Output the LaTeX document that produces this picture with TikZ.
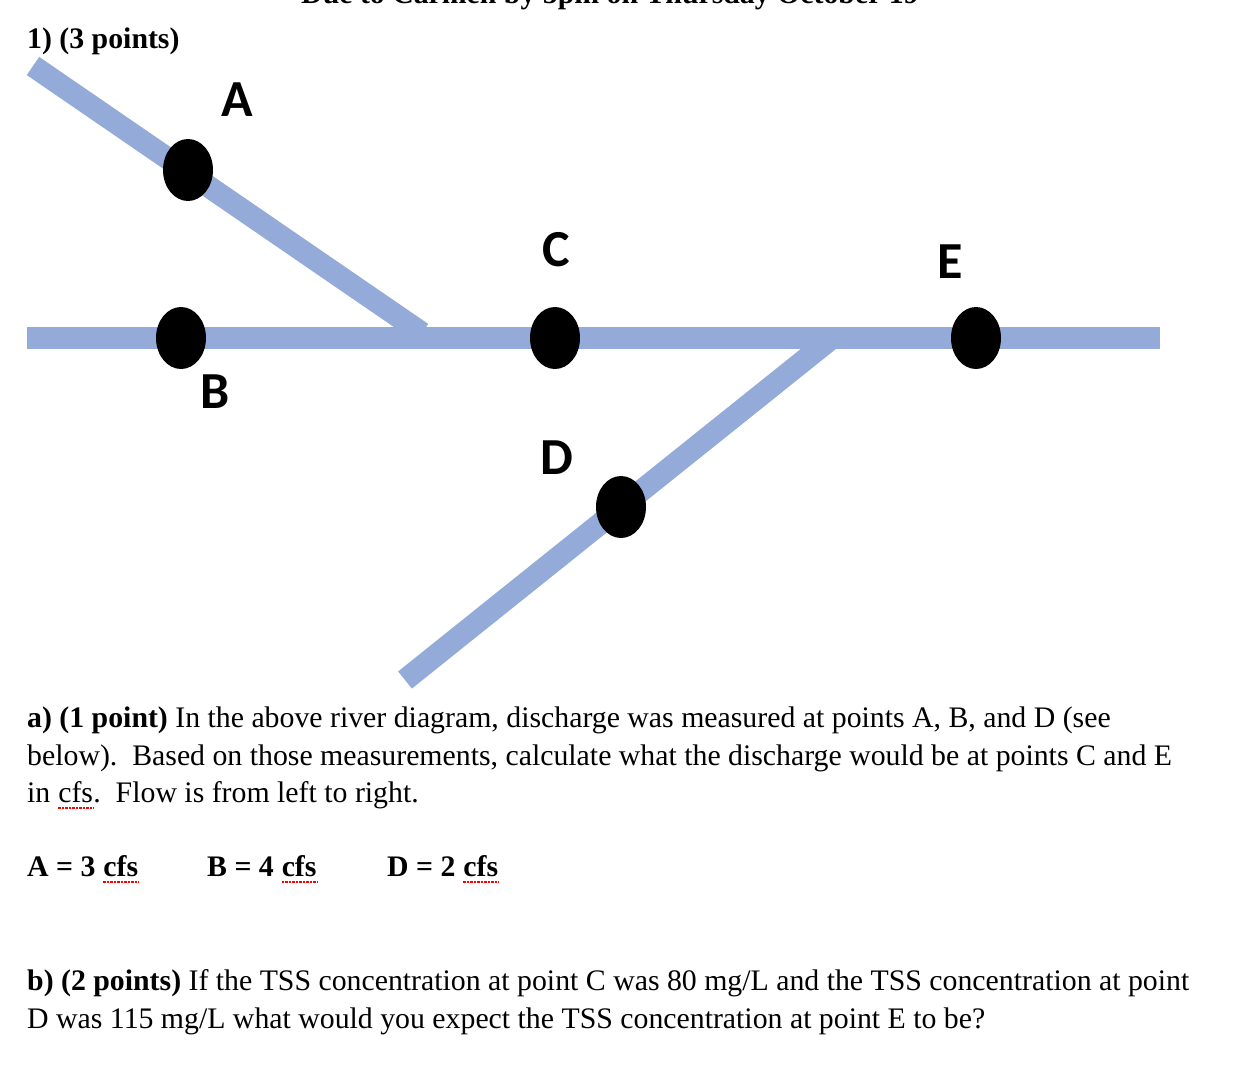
\documentclass[tikz,border=0pt]{standalone}
\usepackage{fontspec}
\setmainfont{Liberation Serif}
\newfontfamily\lab{Carlito}
\tikzset{river/.style={line width=22pt,color=rivc},
 dot/.style={ellipse,fill=black,minimum width=50pt,minimum height=62pt,inner sep=0pt},
 lbl/.style={font=\lab\bfseries\fontsize{52}{60}\selectfont},
 txt/.style={anchor=base west,inner sep=0pt,font=\fontsize{29.8}{34}\selectfont},
 spell/.style={red,densely dotted,line width=2.5pt}}
\definecolor{rivc}{RGB}{148,170,216}
\usetikzlibrary{shapes.geometric}
\begin{document}
\begin{tikzpicture}[x=1pt,y=-1pt]
\useasboundingbox (0,0) rectangle (1240,1076);
\node[txt,anchor=base] (due) at (610,4) {\textbf{Due to Carmen by 5pm on Thursday October 19}};
\node[txt] (t1) at (27,48) {\textbf{1) (3 points)}};
\coordinate (m1) at (27,338); \coordinate (m2) at (1160,338);
\coordinate (u1) at (33,66); \coordinate (u2) at (422,333);
\coordinate (l1) at (405,680); \coordinate (l2) at (832,338);
\draw[river] (m1) -- (m2);
\draw[river] (u1) -- (u2);
\draw[river] (l1) -- (l2);
\node[dot] (A) at (188,170) {};
\node[dot] (B) at (181,338) {};
\node[dot] (C) at (555,338) {};
\node[dot] (E) at (976,338) {};
\node[dot] (D) at (621,507) {};
\node[lbl] (la) at (237,100) {A};
\node[lbl] (lb) at (215,392) {B};
\node[lbl] (lc) at (556,250) {C};
\node[lbl] (ld) at (557,458) {D};
\node[lbl] (le) at (950,262) {E};
\node[txt] (p1) at (27,727) {\textbf{a) (1 point)} In the above river diagram, discharge was measured at points A, B, and D (see};
\node[txt] (p2) at (27,765) {below).\ \ Based on those measurements, calculate what the discharge would be at points C and E};
\node[txt] (p3a) at (27,802) {in};
\node[txt] (p3b) at ([xshift=7.5pt]p3a.base east) {cfs};
\node[txt] (p3c) at (p3b.base east) {.\ \ Flow is from left to right.};
\draw[spell] ([yshift=-6pt]p3b.base west) -- ([yshift=-6pt]p3b.base east);
\node[txt] (qa) at (27,876) {\textbf{A = 3}};
\node[txt] (qa2) at ([xshift=7.5pt]qa.base east) {\textbf{cfs}};
\node[txt] (qb) at (207,876) {\textbf{B = 4}};
\node[txt] (qb2) at ([xshift=7.5pt]qb.base east) {\textbf{cfs}};
\node[txt] (qd) at (387,876) {\textbf{D = 2}};
\node[txt] (qd2) at ([xshift=7.5pt]qd.base east) {\textbf{cfs}};
\foreach \n in {qa2,qb2,qd2} \draw[spell] ([yshift=-6pt]\n.base west) -- ([yshift=-6pt]\n.base east);
\node[txt] (r1) at (27,990) {\textbf{b) (2 points)} If the TSS concentration at point C was 80 mg/L and the TSS concentration at point};
\node[txt] (r2) at (27,1028) {D was 115 mg/L what would you expect the TSS concentration at point E to be?};
\end{tikzpicture}
\end{document}
